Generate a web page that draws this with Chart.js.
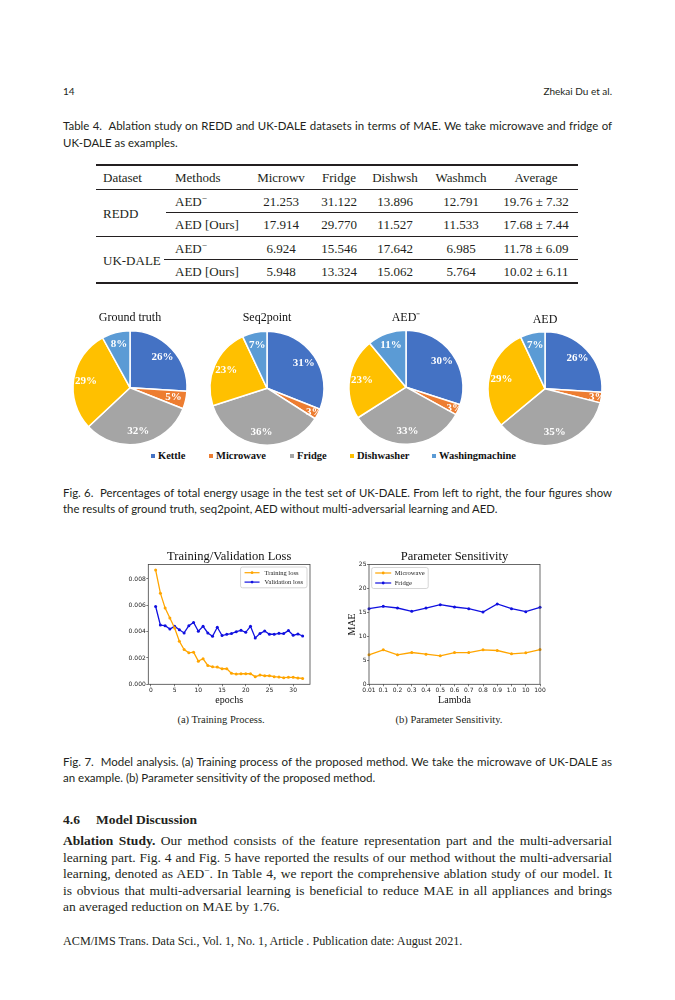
<!DOCTYPE html>
<html><head><meta charset="utf-8">
<script src="https://cdn.jsdelivr.net/npm/chart.js@4"></script>
<style>
html,body{margin:0;padding:0;background:#fff;}
#page{position:relative;width:675px;height:1000px;overflow:hidden;color:#231f20;}
.t{position:absolute;white-space:nowrap;line-height:1;}
.sans{font-family:Lato,"Open Sans",sans-serif;}
.serif{font-family:"Liberation Serif","Times New Roman",serif;}
.rule{position:absolute;background:#231f20;}
canvas{position:absolute;}
sup{font-size:0.7em;vertical-align:0.45em;line-height:0;}
.lg{position:absolute;font-family:"Liberation Serif",serif;font-weight:bold;font-size:10.5px;line-height:1;white-space:nowrap;color:#111;}
.lg i{display:inline-block;width:4px;height:4px;margin-right:3px;vertical-align:1px;}
</style></head>
<body><div id="page">

<div class="t sans" data-x="63" data-y="91" data-fs="10">14</div>
<div class="t sans" data-x="612" data-y="91" data-fs="10" data-align="right">Zhekai Du et al.</div>

<div class="t sans" data-x="63" data-y="126" data-fs="11" data-g="c1" data-w="549" data-j="1">Table 4.&nbsp; Ablation study on REDD and UK-DALE datasets in terms of MAE. We take microwave and fridge of</div>
<div class="t sans" data-x="63" data-y="143" data-fs="11" data-g="c1">UK-DALE as examples.</div>

<div id="table"></div>

<div id="pieLegend"></div>

<div class="t sans" data-x="63" data-y="493" data-fs="11" data-g="c2" data-w="549" data-j="1">Fig. 6.&nbsp; Percentages of total energy usage in the test set of UK-DALE. From left to right, the four figures show</div>
<div class="t sans" data-x="63" data-y="509" data-fs="11" data-g="c2">the results of ground truth, seq2point, AED without multi-adversarial learning and AED.</div>

<div class="t serif" data-x="221" data-y="720" data-fs="10.5" data-align="center">(a) Training Process.</div>
<div class="t serif" data-x="449" data-y="720" data-fs="10.5" data-align="center">(b) Parameter Sensitivity.</div>

<div class="t sans" data-x="63" data-y="762" data-fs="11" data-g="c3" data-w="549" data-j="1">Fig. 7.&nbsp; Model analysis. (a) Training process of the proposed method. We take the microwave of UK-DALE as</div>
<div class="t sans" data-x="63" data-y="778" data-fs="11" data-g="c3">an example. (b) Parameter sensitivity of the proposed method.</div>

<div class="t serif" data-x="63" data-y="820" data-fs="13.5" style="font-weight:bold">4.6</div>
<div class="t serif" data-x="96" data-y="820" data-fs="13.5" style="font-weight:bold">Model Discussion</div>

<div class="t serif" data-x="63" data-y="841" data-fs="13.5" data-g="b" data-w="549" data-j="1"><b>Ablation Study.</b> Our method consists of the feature representation part and the multi-adversarial</div>
<div class="t serif" data-x="63" data-y="858" data-fs="13.5" data-g="b" data-w="549" data-j="1">learning part. Fig. 4 and Fig. 5 have reported the results of our method without the multi-adversarial</div>
<div class="t serif" data-x="63" data-y="874" data-fs="13.5" data-g="b" data-w="549" data-j="1">learning, denoted as AED<sup>−</sup>. In Table 4, we report the comprehensive ablation study of our model. It</div>
<div class="t serif" data-x="63" data-y="891" data-fs="13.5" data-g="b" data-w="549" data-j="1">is obvious that multi-adversarial learning is beneficial to reduce MAE in all appliances and brings</div>
<div class="t serif" data-x="63" data-y="907" data-fs="13.5" data-g="b">an averaged reduction on MAE by 1.76.</div>

<div class="t serif" data-x="63" data-y="941" data-fs="10.5" data-g="f" data-w="400" data-fitonly="1">ACM/IMS Trans. Data Sci., Vol. 1, No. 1, Article . Publication date: August 2021.</div>

<canvas id="pie0" style="left:65px;top:311px;width:130px;height:139px"></canvas>
<canvas id="pie1" style="left:202px;top:311px;width:130px;height:140px"></canvas>
<canvas id="pie2" style="left:341px;top:311px;width:130px;height:138px"></canvas>
<canvas id="pie3" style="left:480px;top:313px;width:130px;height:137px"></canvas>

<canvas id="lossChart" style="left:112px;top:548px;width:210px;height:158px"></canvas>
<canvas id="sensChart" style="left:346px;top:548px;width:206px;height:158px"></canvas>
</div>

<script>
// ---------------- data ----------------
const tableHeader = ['Dataset','Methods','Microwv','Fridge','Dishwsh','Washmch','Average'];
const tableDatasets = ['REDD','UK-DALE'];
const tableMethods = ['AED<sup>−</sup>','AED [Ours]'];
const reddRows = [
  ['21.253','31.122','13.896','12.791','19.76 ± 7.32'],
  ['17.914','29.770','11.527','11.533','17.68 ± 7.44']
];
const ukdaleRows = [
  ['6.924','15.546','17.642','6.985','11.78 ± 6.09'],
  ['5.948','13.324','15.062','5.764','10.02 ± 6.11']
];

const applianceLabels = ['Kettle','Microwave','Fridge','Dishwasher','Washingmachine'];
const applianceColors = ['#4472C4','#ED7D31','#A5A5A5','#FFC000','#5B9BD5'];
const pieTitles = ['Ground truth','Seq2point','AED\u207B','AED'];
const groundTruth = [26,5,32,29,8];
const seq2point  = [31,3,36,23,7];
const aedMinus   = [30,3,33,23,11];
const aedFull    = [26,3,35,29,7];

const epochs = [1,2,3,4,5,6,7,8,9,10,11,12,13,14,15,16,17,18,19,20,21,22,23,24,25,26,27,28,29,30,31,32];
const trainingLoss = [0.00868,0.00692,0.00579,0.00503,0.00428,0.00327,0.00264,0.00239,0.00244,0.00176,0.00194,0.00143,
  0.00133,0.00131,0.00118,0.00118,0.00083,0.00078,0.00080,0.00080,0.00080,0.00058,0.00070,0.00065,0.00065,0.00058,
  0.00055,0.00050,0.00053,0.00053,0.00048,0.00045];
const validationLoss = [0.00591,0.00450,0.00445,0.00420,0.00440,0.00415,0.00390,0.00445,0.00470,0.00403,0.00440,0.00390,
  0.00365,0.00433,0.00370,0.00380,0.00385,0.00400,0.00410,0.00395,0.00440,0.00352,0.00385,0.00405,0.00380,0.00380,
  0.00387,0.00385,0.00408,0.00372,0.00382,0.00367];
const epochTicks = [0,5,10,15,20,25,30];
const lossTicks = [0,0.002,0.004,0.006,0.008];

const lambdaLabels = ['0.01','0.1','0.2','0.3','0.4','0.5','0.6','0.7','0.8','0.9','1.0','10','100'];
const microwaveMAE = [6.15,7.19,6.15,6.63,6.28,5.94,6.63,6.63,7.19,7.05,6.35,6.56,7.26];
const fridgeMAE = [15.78,16.27,15.92,15.22,15.92,16.62,16.13,15.78,15.08,16.76,15.78,15.15,16.06];
const maeTicks = [0,5,10,15,20,25];

// ---------------- table ----------------
(function buildTable(){
  const page = document.getElementById('page');
  const headY = 177, rowY = [201,224,248,271];
  const colX = [103,175], colC = [281,339,395,461,536];
  function cell(html, x, y, align){
    const d = document.createElement('div');
    d.className = 't serif'; d.innerHTML = html;
    d.dataset.x = x; d.dataset.y = y; d.dataset.fs = 13;
    if (align) d.dataset.align = align;
    page.appendChild(d);
  }
  function rule(x1, x2, y, h){
    const r = document.createElement('div'); r.className = 'rule';
    r.style.left = x1+'px'; r.style.width = (x2-x1)+'px'; r.style.top = (y-h/2)+'px'; r.style.height = h+'px';
    page.appendChild(r);
  }
  tableHeader.forEach((h,i)=>{ if(i<2) cell(h,colX[i],headY); else cell(h,colC[i-2],headY,'center'); });
  const groups = [reddRows, ukdaleRows];
  groups.forEach((rows,g)=>{
    cell(tableDatasets[g], colX[0], (rowY[g*2]+rowY[g*2+1])/2 + 0.5);
    rows.forEach((r,k)=>{
      const y = rowY[g*2+k];
      cell(tableMethods[k], colX[1], y);
      r.forEach((v,j)=> cell(v, colC[j], y, 'center'));
    });
  });
  rule(96,578,165,1.1);
  rule(96,578,189,0.7);
  rule(166,578,212.5,0.5);
  rule(96,578,236,0.7);
  rule(164,578,259.5,0.5);
  rule(96,578,283,1.1);
})();

// ---------------- pie legend ----------------
(function(){
  const lg = document.getElementById('pieLegend');
  const xs = [151,209,290,350,432];
  applianceLabels.forEach((l,i)=>{
    const s = document.createElement('span'); s.className='lg';
    s.style.left = xs[i]+'px'; s.style.top = (456-5.5)+'px';
    s.innerHTML = '<i style="background:'+applianceColors[i]+'"></i>'+l;
    lg.appendChild(s);
  });
})();

// ---------------- text layout ----------------
(function layoutText(){
  const els = Array.from(document.querySelectorAll('.t'));
  els.forEach(el=>{ el.style.fontSize = el.dataset.fs+'px'; });
  const factors = {};
  els.filter(el=>el.dataset.j || el.dataset.fitonly).forEach(el=>{
    const w = el.getBoundingClientRect().width;
    let f = (+el.dataset.w)/w*(el.dataset.fitonly?1:0.985);
    f = Math.max(0.8, Math.min(1.2, f));
    const g = el.dataset.g;
    factors[g] = (g in factors) ? Math.min(factors[g], f) : f;
  });
  els.forEach(el=>{
    let fs = +el.dataset.fs;
    if (el.dataset.g && factors[el.dataset.g]) fs *= factors[el.dataset.g];
    el.style.fontSize = fs+'px';
    el.style.top = (+el.dataset.y - fs*0.5)+'px';
    const w = el.getBoundingClientRect().width;
    const x = +el.dataset.x;
    if (el.dataset.align==='right') el.style.left = (x-w)+'px';
    else if (el.dataset.align==='center') el.style.left = (x-w/2)+'px';
    else el.style.left = x+'px';
    if (el.dataset.j) {
      el.style.whiteSpace='normal'; el.style.width = el.dataset.w+'px';
      el.style.textAlign='justify'; el.style.textAlignLast='justify';
      el.style.height = (fs)+'px';
    }
  });
})();

// ---------------- charts ----------------
Chart.defaults.animation = false;

function sizeCanvas(id){
  const c = document.getElementById(id);
  c.width = parseFloat(c.style.width); c.height = parseFloat(c.style.height);
}
['pie0','pie1','pie2','pie3','lossChart','sensChart'].forEach(sizeCanvas);

const pieLabels = {
  id:'pieLabels',
  afterDatasetsDraw(chart){
    const ctx = chart.ctx, meta = chart.getDatasetMeta(0), data = chart.data.datasets[0].data;
    ctx.save();
    ctx.font = 'bold 11px "Liberation Serif", serif';
    ctx.fillStyle = '#fff'; ctx.textAlign = 'center'; ctx.textBaseline = 'middle';
    meta.data.forEach((arc,i)=>{
      const p = arc.getProps(['x','y','startAngle','endAngle','outerRadius'], true);
      const mid = (p.startAngle+p.endAngle)/2;
      const r = p.outerRadius*(data[i] < 5 ? 0.93 : 0.78);
      ctx.fillText(data[i]+'%', p.x+Math.cos(mid)*r, p.y+Math.sin(mid)*r);
    });
    ctx.restore();
  }
};

function makePie(id, title, values){
  new Chart(document.getElementById(id), {
    type:'pie',
    data:{ labels: applianceLabels, datasets:[{ data: values, backgroundColor: applianceColors,
      borderColor:'#fff', borderWidth:1.5, hoverOffset:0 }]},
    options:{
      responsive:false, maintainAspectRatio:false, radius:57,
      layout:{padding:0},
      plugins:{
        legend:{display:false}, tooltip:{enabled:false},
        title:{display:true, text:title, color:'#111', padding:{top:0,bottom:0},
          font:{family:'"Liberation Serif", serif', size:12, weight:'normal', lineHeight:1.2}}
      }
    },
    plugins:[pieLabels]
  });
}
makePie('pie0', pieTitles[0], groundTruth);
makePie('pie1', pieTitles[1], seq2point);
makePie('pie2', pieTitles[2], aedMinus);
makePie('pie3', pieTitles[3], aedFull);

const frame = {
  id:'frame',
  afterDatasetsDraw(chart){
    const {ctx, chartArea:a} = chart;
    ctx.save(); ctx.strokeStyle='#444'; ctx.lineWidth=0.8;
    ctx.strokeRect(a.left, a.top, a.right-a.left, a.bottom-a.top);
    ctx.restore();
  }
};
const innerLegend = {
  id:'innerLegend',
  afterDraw(chart, args, o){
    const {ctx, chartArea:a} = chart;
    const ds = chart.data.datasets;
    ctx.save();
    ctx.font = o.fontSize+'px "Liberation Serif", serif';
    const tw = Math.max(...ds.map(d=>ctx.measureText(d.label).width));
    const w = o.padX*2 + o.lineLen + o.gap + tw;
    const h = o.padY*2 + o.rowH*ds.length;
    const x = o.corner==='right' ? a.right - o.inset - w : a.left + o.inset;
    const y = a.top + o.insetTop;
    ctx.fillStyle='rgba(255,255,255,0.85)'; ctx.strokeStyle='#cccccc'; ctx.lineWidth=0.8;
    ctx.beginPath(); ctx.roundRect(x,y,w,h,2); ctx.fill(); ctx.stroke();
    ds.forEach((d,i)=>{
      const cy = y + o.padY + o.rowH*(i+0.5);
      const lx = x + o.padX;
      ctx.strokeStyle=d.borderColor; ctx.lineWidth=1.2;
      ctx.beginPath(); ctx.moveTo(lx,cy); ctx.lineTo(lx+o.lineLen,cy); ctx.stroke();
      ctx.fillStyle=d.borderColor; ctx.beginPath(); ctx.arc(lx+o.lineLen/2, cy, 1.4, 0, Math.PI*2); ctx.fill();
      ctx.fillStyle='#222'; ctx.textBaseline='middle'; ctx.textAlign='left';
      ctx.fillText(d.label, lx+o.lineLen+o.gap, cy+0.3);
    });
    ctx.restore();
  }
};

const tickFont = {family:'"DejaVu Sans", sans-serif', size:6};
const titleFont = {family:'"Liberation Serif", serif', size:12.5, weight:'normal', lineHeight:1.2};
const axisTitleFont = {family:'"Liberation Serif", serif', size:10, lineHeight:1.2};
const gridTicksOnly = {display:true, drawOnChartArea:false, drawTicks:true, tickLength:2, color:'#444', lineWidth:0.7};

new Chart(document.getElementById('lossChart'), {
  type:'line',
  data:{ datasets:[
    { label:'Training loss', data: epochs.map((e,i)=>({x:e, y:trainingLoss[i]})),
      borderColor:'#FFA500', backgroundColor:'#FFA500', borderWidth:1.3, pointRadius:1.5, pointBorderWidth:0, tension:0 },
    { label:'Validation loss', data: epochs.map((e,i)=>({x:e, y:validationLoss[i]})),
      borderColor:'#1010E0', backgroundColor:'#1010E0', borderWidth:1.3, pointRadius:1.5, pointBorderWidth:0, tension:0 }
  ]},
  options:{
    responsive:false, maintainAspectRatio:false,
    layout:{padding:{left:0,right:12,top:0,bottom:0}},
    scales:{
      x:{ type:'linear', min:-0.55, max:33.55,
        afterBuildTicks(s){ s.ticks = epochTicks.map(v=>({value:v})); },
        afterFit(s){ s.height = 21.7; },
        grid:gridTicksOnly, border:{display:false},
        ticks:{font:tickFont, color:'#222', padding:0.5, maxRotation:0},
        title:{display:true, text:'epochs', color:'#111', font:axisTitleFont, padding:{top:0,bottom:0}} },
      y:{ type:'linear', min:0, max:0.0091,
        afterBuildTicks(s){ s.ticks = lossTicks.map(v=>({value:v})); },
        afterFit(s){ s.width = 36.3; },
        grid:gridTicksOnly, border:{display:false},
        ticks:{font:tickFont, color:'#222', padding:0.5, callback:v=>v.toFixed(3)} }
    },
    plugins:{
      legend:{display:false}, tooltip:{enabled:false},
      title:{display:true, fullSize:false, text:'Training/Validation Loss', color:'#111', font:titleFont, padding:{top:1.5,bottom:0}},
      innerLegend:{corner:'right', inset:3, insetTop:2.5, fontSize:6.5, rowH:9.4, padX:4, padY:1, lineLen:15, gap:5}
    }
  },
  plugins:[frame, innerLegend]
});

new Chart(document.getElementById('sensChart'), {
  type:'line',
  data:{ labels: lambdaLabels, datasets:[
    { label:'Microwave', data: microwaveMAE,
      borderColor:'#FFA500', backgroundColor:'#FFA500', borderWidth:1.3, pointRadius:1.5, pointBorderWidth:0, tension:0 },
    { label:'Fridge', data: fridgeMAE,
      borderColor:'#1010E0', backgroundColor:'#1010E0', borderWidth:1.3, pointRadius:1.5, pointBorderWidth:0, tension:0 }
  ]},
  options:{
    responsive:false, maintainAspectRatio:false,
    layout:{padding:{left:0,right:12,top:0,bottom:0}},
    scales:{
      x:{ type:'category', offset:false,
        afterFit(s){ s.height = 21.7; },
        grid:gridTicksOnly, border:{display:false},
        ticks:{font:tickFont, color:'#222', padding:0.5, autoSkip:false, maxRotation:0, minRotation:0},
        title:{display:true, text:'Lambda', color:'#111', font:axisTitleFont, padding:{top:0,bottom:0}} },
      y:{ type:'linear', min:0, max:25,
        afterBuildTicks(s){ s.ticks = maeTicks.map(v=>({value:v})); },
        afterFit(s){ s.width = 23; },
        grid:gridTicksOnly, border:{display:false},
        ticks:{font:tickFont, color:'#222', padding:0.5},
        title:{display:true, text:'MAE', color:'#111', font:axisTitleFont, padding:{top:0,bottom:0}} }
    },
    plugins:{
      legend:{display:false}, tooltip:{enabled:false},
      title:{display:true, fullSize:false, text:'Parameter Sensitivity', color:'#111', font:titleFont, padding:{top:1.5,bottom:0}},
      innerLegend:{corner:'left', inset:2.7, insetTop:3, fontSize:6.6, rowH:10, padX:3.5, padY:0.5, lineLen:16, gap:3.5}
    }
  },
  plugins:[frame, innerLegend]
});
</script>
</body></html>
